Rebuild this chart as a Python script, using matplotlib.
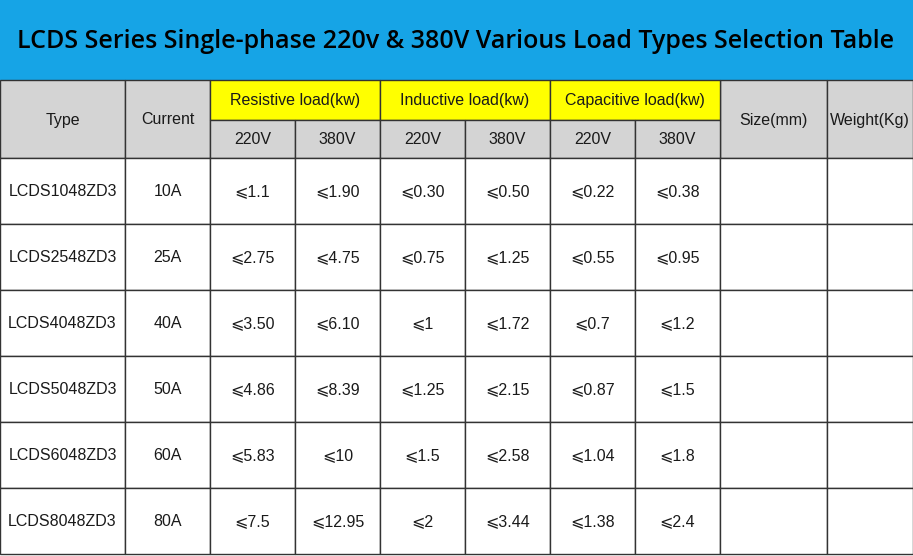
import matplotlib.pyplot as plt
from matplotlib.patches import Rectangle

plt.rcParams['font.family'] = ['Liberation Sans', 'DejaVu Sans']

title = "LCDS Series Single-phase 220v & 380V Various Load Types Selection Table"
types = ["LCDS1048ZD3", "LCDS2548ZD3", "LCDS4048ZD3", "LCDS5048ZD3", "LCDS6048ZD3", "LCDS8048ZD3"]
currents = ["10A", "25A", "40A", "50A", "60A", "80A"]
groups = ["Resistive load(kw)", "Inductive load(kw)", "Capacitive load(kw)"]
volts = ["220V", "380V"]
resistive = [["1.1", "1.90"], ["2.75", "4.75"], ["3.50", "6.10"], ["4.86", "8.39"], ["5.83", "10"], ["7.5", "12.95"]]
inductive = [["0.30", "0.50"], ["0.75", "1.25"], ["1", "1.72"], ["1.25", "2.15"], ["1.5", "2.58"], ["2", "3.44"]]
capacitive = [["0.22", "0.38"], ["0.55", "0.95"], ["0.7", "1.2"], ["0.87", "1.5"], ["1.04", "1.8"], ["1.38", "2.4"]]

# geometry in pixels
xs = [0, 125, 210, 295, 380, 465, 550, 635, 720, 827, 913]
title_h = 80
h1, h2 = 120, 158
row_h = 66

fig = plt.figure(figsize=(9.13, 5.56), dpi=100)
ax = fig.add_axes([0, 0, 1, 1])
ax.set_xlim(0, 913)
ax.set_ylim(556, 0)
ax.axis('off')

def cell(x0, x1, y0, y1, color, text="", **kw):
    ax.add_patch(Rectangle((x0, y0), x1 - x0, y1 - y0, facecolor=color,
                           edgecolor='#333333', linewidth=1))
    if text:
        ax.text((x0 + x1) / 2, (y0 + y1) / 2 + 1, text, ha='center', va='center',
                fontsize=kw.get('fs', 11.5), color='#1a1a1a')

# title bar
ax.add_patch(Rectangle((0, 0), 913, title_h, facecolor='#16a4e6', edgecolor='none'))
ax.text(456, 42, title, ha='center', va='center', fontsize=18, fontweight='semibold',
        family=['Open Sans', 'DejaVu Sans'], color='black')

gray = '#d4d4d4'
cell(xs[0], xs[1], title_h, h2, gray, "Type")
cell(xs[1], xs[2], title_h, h2, gray, "Current")
cell(xs[8], xs[9], title_h, h2, gray, "Size(mm)")
cell(xs[9], xs[10], title_h, h2, gray, "Weight(Kg)")
for g, name in enumerate(groups):
    a, b = xs[2 + 2 * g], xs[4 + 2 * g]
    cell(a, b, title_h, h1, '#ffff00', name)
    for k, v in enumerate(volts):
        cell(xs[2 + 2 * g + k], xs[3 + 2 * g + k], h1, h2, gray, v)

for r in range(len(types)):
    y0 = h2 + r * row_h
    y1 = y0 + row_h
    vals = [types[r], currents[r]] + ["⩽" + v for v in resistive[r] + inductive[r] + capacitive[r]] + ["", ""]
    for c, v in enumerate(vals):
        cell(xs[c], xs[c + 1], y0, y1, 'white', v)

fig.savefig('out.png', dpi=100)
